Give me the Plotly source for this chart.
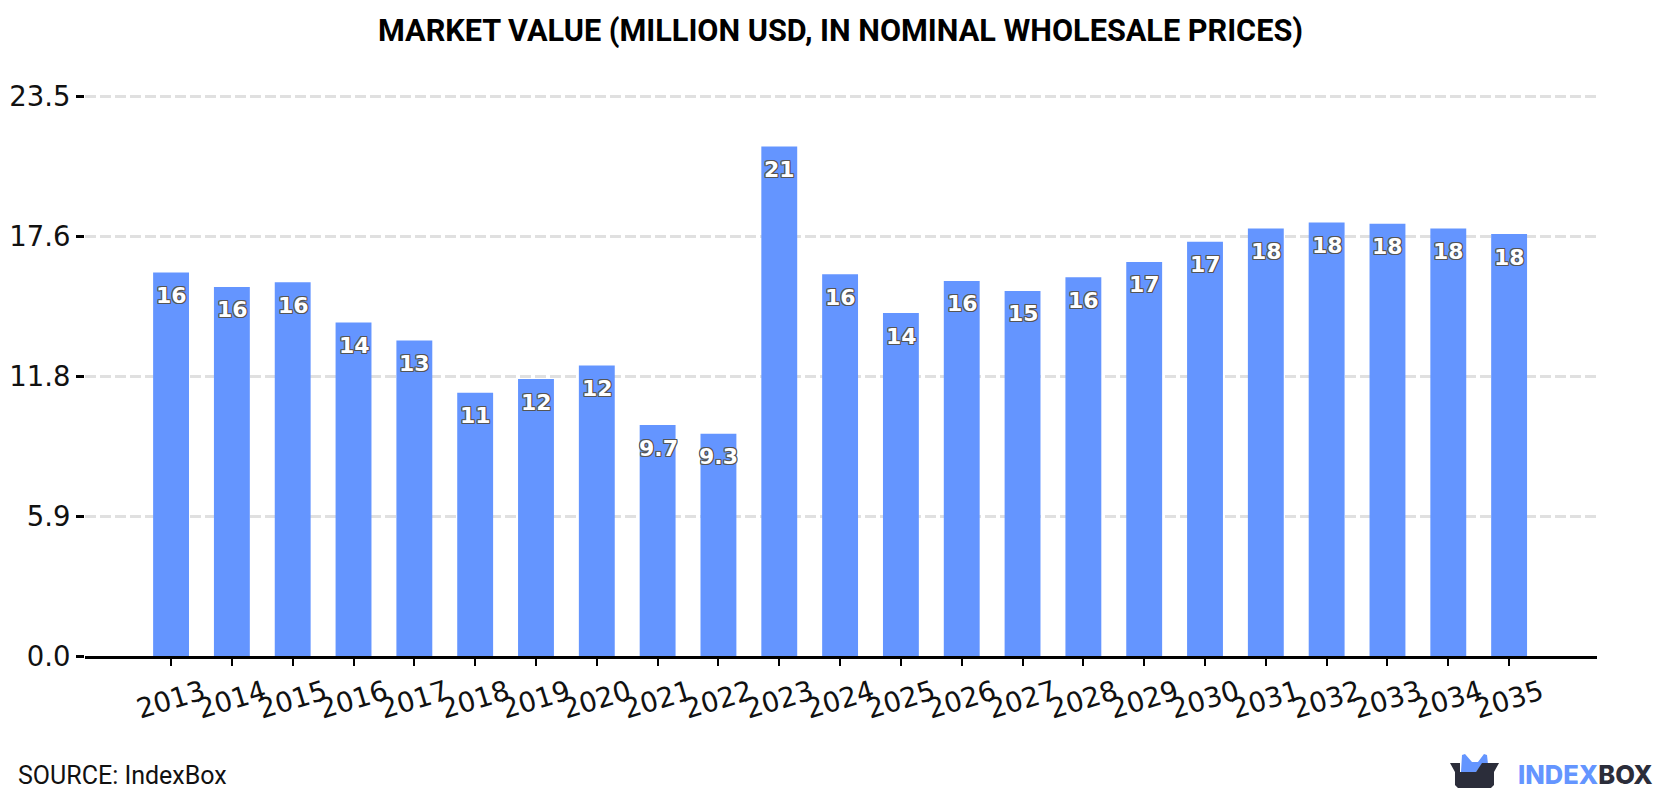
import plotly.graph_objects as go

# Market value by year, million USD
years = ["2013", "2014", "2015", "2016", "2017", "2018", "2019", "2020", "2021", "2022", "2023", "2024",
         "2025", "2026", "2027", "2028", "2029", "2030", "2031", "2032", "2033", "2034", "2035"]
values = [16.1, 15.5, 15.7, 14.0, 13.25, 11.05, 11.63, 12.2, 9.7, 9.33, 21.4, 16.03,
          14.4, 15.75, 15.33, 15.9, 16.55, 17.4, 17.95, 18.2, 18.15, 17.95, 17.72]
value_labels = ["16", "16", "16", "14", "13", "11", "12", "12", "9.7", "9.3", "21", "16",
                "14", "16", "15", "16", "17", "17", "18", "18", "18", "18", "18"]
y_ticks = [0, 5.875, 11.75, 17.625, 23.5]
y_tick_labels = ["0.0", "5.9", "11.8", "17.6", "23.5"]

TITLE = "MARKET VALUE (MILLION USD, IN NOMINAL WHOLESALE PRICES)"
BAR_BLUE = "#6495ff"
LOGO_DARK = "#2b2d3a"

W, H = 1680, 800
L, R, T, B = 85, 83, 94, 144
OUTLINE = ("-1px -1px 0 #555, 1px -1px 0 #555, -1px 1px 0 #555, 1px 1px 0 #555, "
           "0 1px 0 #555, 0 -1px 0 #555, 1px 0 0 #555, -1px 0 0 #555")


def px(x):
    return (x - L) / (W - L - R)


def py(y):
    return 1 - (y - T) / (H - T - B)


def path(points):
    return "M " + " L ".join(f"{px(x):.5f},{py(y):.5f}" for x, y in points) + " Z"


fig = go.Figure(go.Bar(x=years, y=values, width=0.59, marker=dict(color=BAR_BLUE, line=dict(width=0)),
                       hoverinfo="x+y"))

# Value labels sit just under the top of each bar; x is the category's position on the axis
annotations = [
    dict(x=i, y=v, text=lab, xref="x", yref="y", showarrow=False, yshift=-23, xshift=0.5,
         xanchor="center", yanchor="middle",
         font=dict(family="DejaVu Sans", size=22, color="white", weight="bold", shadow=OUTLINE))
    for i, (v, lab) in enumerate(zip(values, value_labels))
]
annotations += [
    dict(text=f"<b>{TITLE}</b>", xref="paper", yref="paper", x=px(840), y=py(31), showarrow=False,
         xanchor="center", yanchor="middle", font=dict(family="Roboto", size=30.65, color="#000")),
    dict(text="SOURCE: IndexBox", xref="paper", yref="paper", x=px(16), y=py(775), showarrow=False,
         xanchor="left", yanchor="middle", font=dict(family="Roboto", size=25, color="#111")),
    dict(text=f"<span style='color:{BAR_BLUE}'>INDEX</span><span style='color:{LOGO_DARK}'>BOX</span>",
         xref="paper", yref="paper", x=px(1516), y=py(774), showarrow=False,
         xanchor="left", yanchor="middle", font=dict(family="Inter", size=25.5, weight=800)),
]

# Logo: open box with a blue shape rising out of it
logo_shapes = [
    dict(type="path", xref="paper", yref="paper", line=dict(width=0), fillcolor=BAR_BLUE, layer="above",
         path=path([(1461, 772), (1462, 755), (1465, 754), (1472, 762), (1478, 762),
                    (1484, 754), (1487, 755), (1488, 764), (1482, 764), (1476, 772)])),
    dict(type="path", xref="paper", yref="paper", line=dict(width=0), fillcolor=LOGO_DARK, layer="above",
         path=path([(1450, 763), (1460, 763), (1460, 772), (1476, 772), (1482, 763), (1499, 763),
                    (1494, 772), (1494, 785), (1491, 788), (1458, 788), (1455, 785), (1455, 772)])),
]

fig.update_layout(
    width=W, height=H, margin=dict(l=L, r=R, t=T, b=B, autoexpand=False),
    paper_bgcolor="white", plot_bgcolor="white", showlegend=False,
    annotations=annotations, shapes=logo_shapes,
    xaxis=dict(type="category", range=[-1.415, 23.445], tickmode="array", tickvals=years, ticktext=years,
               tickangle=-17, ticks="outside", ticklen=7, tickwidth=2, tickcolor="#000",
               ticklabelshift=32,
               showline=True, linecolor="#000", linewidth=3, showgrid=False, zeroline=False,
               tickfont=dict(family="DejaVu Sans", size=27.5, color="#111")),
    yaxis=dict(range=[0, 23.6], tickmode="array", tickvals=y_ticks, ticktext=y_tick_labels,
               ticks="outside", ticklen=8, tickwidth=3, tickcolor="#000",
               showline=False, zeroline=False, showgrid=True,
               gridcolor="#e0e0e0", gridwidth=3, griddash="11px,4px",
               tickfont=dict(family="DejaVu Sans", size=27.5, color="#111")),
)

fig.write_html("out.html")
